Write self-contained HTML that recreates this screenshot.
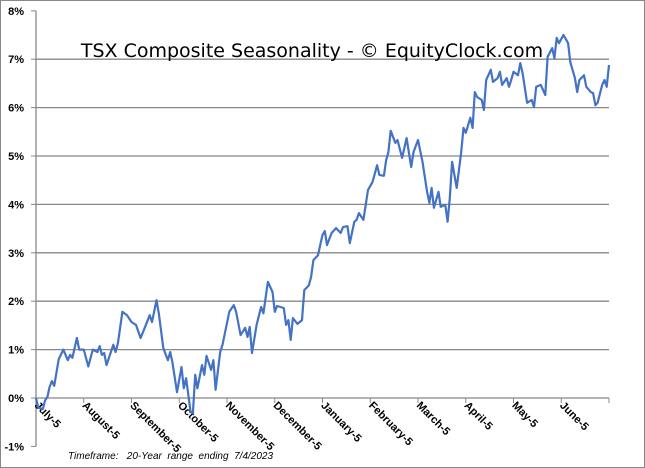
<!DOCTYPE html>
<html><head><meta charset="utf-8"><style>
html,body{margin:0;padding:0;background:#fff;}
svg{display:block;font-family:"Liberation Sans",Arial,sans-serif;}
</style></head><body>
<svg id="chart" width="645" height="468" viewBox="0 0 645 468" xmlns="http://www.w3.org/2000/svg">
<rect x="0.5" y="0.5" width="644" height="467" fill="#fff" stroke="#888" stroke-width="1"/>
<g id="grid"></g>
<g id="axes"></g>
<path id="line" fill="none" stroke="#4472c4" stroke-width="2.2" stroke-linejoin="round"/>
<text x="312" y="57" text-anchor="middle" font-family="'DejaVu Sans',sans-serif" font-size="19" fill="#000">TSX Composite Seasonality - © EquityClock.com</text>
<text x="68" y="459" font-size="10" font-style="italic" fill="#000" xml:space="preserve">Timeframe:   20-Year  range  ending  7/4/2023</text>
</svg>
<script>
const days=[0,1,3,4,5,6,7,8,10,12,14,15,16,18,19,21,23,25,27,28,29,30,31,34,35,36,38,40,42,44,46,48,50,51,53,54,56,58,59,60,62,64,65,66,68,69,70,71,73,74,75,77,78,79,81,82,85,87,88,90,92,93,94,95,97,99,100,102,104,105,106,109,110,111,112,113,115,117,118,120,121,122,124,126,127,128,130,132,134,135,137,138,140,141,142,144,146,148,150,151,153,154,155,156,158,159,161,163,165,166,168,170,172,173,174,175,177,178,180,181,182,183,185,187,188,189,191,192,193,194,196,197,198,200,201,203,204,205,207,208,209,210,212,213,214,216,218,219,220,222,224,225,227,228,229,230,232,234,235,237,238,239,241,242,244,245,246,247,249,250,251,252];
const values=[0,-0.2,-0.23,-0.05,0.02,0.23,0.35,0.25,0.8,1.0,0.78,0.89,0.83,1.24,1.0,1.0,0.65,1.0,0.95,1.07,0.89,0.93,0.68,1.1,0.95,1.13,1.78,1.71,1.57,1.51,1.24,1.47,1.71,1.57,2.02,1.75,1.03,0.78,0.95,0.74,0.12,0.64,0.2,0.41,-0.29,-0.31,0.48,0.2,0.68,0.48,0.87,0.58,0.78,0.17,0.95,1.1,1.78,1.92,1.78,1.3,1.45,1.26,1.47,0.93,1.51,1.88,1.75,2.4,2.19,1.78,1.9,1.86,1.51,1.61,1.2,1.65,1.53,1.61,2.23,2.33,2.5,2.85,2.95,3.37,3.45,3.16,3.41,3.51,3.41,3.53,3.55,3.2,3.64,3.68,3.82,3.68,4.3,4.46,4.81,4.61,4.59,4.92,5.08,5.52,5.27,5.33,4.96,5.37,4.77,5.08,5.33,4.88,4.26,4.03,4.34,3.93,4.26,3.95,3.99,3.64,4.13,4.88,4.34,5.08,5.58,5.48,5.79,5.58,6.32,6.22,6.16,5.95,6.57,6.78,6.53,6.61,6.74,6.47,6.61,6.43,6.57,6.74,6.67,6.92,6.71,6.1,6.16,6.01,6.43,6.47,6.26,7.05,7.23,7.02,7.44,7.33,7.5,7.33,6.94,6.61,6.32,6.57,6.67,6.43,6.32,6.3,6.05,6.1,6.47,6.57,6.43,6.88];
const monthLabels=["July-5","August-5","September-5","October-5","November-5","December-5","January-5","February-5","March-5","April-5","May-5","June-5"];
const yTicks=[-1,0,1,2,3,4,5,6,7,8];
const totalDays=252;
const X0=36,X1=609,Y0=398,PER=48.4;
const NS="http://www.w3.org/2000/svg";
function xs(d){return X0+(X1-X0)*d/totalDays;}
function ys(v){return Y0-v*PER;}
function mk(tag,attrs,parent){const e=document.createElementNS(NS,tag);for(const k in attrs)e.setAttribute(k,attrs[k]);parent.appendChild(e);return e;}
const grid=document.getElementById('grid'),axes=document.getElementById('axes');
yTicks.forEach(v=>{
  const y=ys(v);
  if(v>=0&&v<8){const g=mk('line',{x1:X0,x2:X1,y1:y,y2:y,stroke:'#888','stroke-width':1.3},grid);
  
  }
  const t=mk('line',{x1:X0-5,x2:X0,y1:y,y2:y,stroke:'#888','stroke-width':1},axes);
  
  
  const l=mk('text',{x:X0-12,y:y+4,'text-anchor':'end','font-size':11,'font-weight':'bold',fill:'#000'},axes);
  l.textContent=v+'%';
  
  
});
const ya=mk('line',{x1:X0,x2:X0,y1:ys(8),y2:ys(-1),stroke:'#888','stroke-width':1.3},axes);


for(let i=0;i<=monthLabels.length;i++){
  const x=X0+(X1-X0)*i/monthLabels.length;
  const t=mk('line',{x1:x,x2:x,y1:Y0,y2:Y0+5,stroke:'#888','stroke-width':1},axes);
  
  
  if(i<monthLabels.length){
    const l=mk('text',{x:0,y:0,'font-size':11,'font-weight':'bold',fill:'#000',transform:`translate(${x-2},${Y0+8}) rotate(45)`},axes);
    l.textContent=monthLabels[i];
    
    
  }
}
document.getElementById('line').setAttribute('d',days.map((d,i)=>(i?'L':'M')+xs(d).toFixed(1)+' '+ys(values[i]).toFixed(1)).join(' '));
</script>
</body></html>
